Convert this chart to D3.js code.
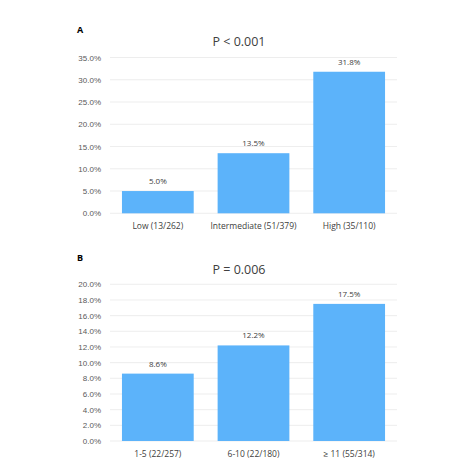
<!DOCTYPE html>
<html lang="en">
<head>
    <meta charset="UTF-8">
    <title>P value bar charts</title>
    <script src="https://d3js.org/d3.v7.min.js"></script>
    <style>
        body { margin: 0; background: #fff; }
        svg { display: block; font-family: "Open Sans", "Liberation Sans", sans-serif; }
        .tick text { fill: #595959; font-size: 8px; }
        .cat { fill: #404040; font-size: 8.5px; }
        .val { fill: #404040; font-size: 8px; }
        .title { fill: #404040; font-size: 12.5px; }
        .panel { fill: #000; font-size: 9px; font-weight: bold; }
    </style>
</head>
<body>
<div id="chart"></div>
<script>
    // panel A
    const catsA = ["Low (13/262)", "Intermediate (51/379)", "High (35/110)"];
    const valsA = [5.0, 13.5, 31.8];
    const ticksA = [0, 5, 10, 15, 20, 25, 30, 35];

    // panel B
    const catsB = ["1-5 (22/257)", "6-10 (22/180)", "\u2265 11 (55/314)"];
    const valsB = [8.6, 12.2, 17.5];
    const ticksB = [0, 2, 4, 6, 8, 10, 12, 14, 16, 18, 20];

    const width = 474, height = 474;
    const barColor = "#5cb3fa";

    const svg = d3.select("#chart").append("svg")
        .attr("width", width)
        .attr("height", height);

    function drawPanel(opts) {
        const x = d3.scaleBand()
            .domain(opts.cats)
            .range([110, 397])
            .paddingInner(0.25)
            .paddingOuter(0.125);

        const y = d3.scaleLinear()
            .domain([0, opts.ticks[opts.ticks.length - 1]])
            .range([opts.bottom, opts.top]);

        const g = svg.append("g");

        // gridlines
        g.append("g")
            .selectAll("line")
            .data(opts.ticks)
            .join("line")
            .attr("x1", 110).attr("x2", 397)
            .attr("y1", d => y(d)).attr("y2", d => y(d))
            .attr("stroke", "#e8e8e8")
            .attr("stroke-width", 0.8);

        // y axis
        const yAxis = g.append("g")
            .attr("transform", "translate(110,0)")
            .call(d3.axisLeft(y).tickValues(opts.ticks).tickFormat(d => d.toFixed(1) + "%").tickSize(0).tickPadding(9));
        yAxis.select(".domain").remove();

        // bars
        g.append("g")
            .selectAll("rect")
            .data(opts.vals)
            .join("rect")
            .attr("x", (d, i) => x(opts.cats[i]))
            .attr("width", x.bandwidth())
            .attr("y", d => y(d))
            .attr("height", d => y(0) - y(d))
            .attr("fill", barColor);

        // value labels
        g.append("g")
            .selectAll("text")
            .data(opts.vals)
            .join("text")
            .attr("class", "val")
            .attr("text-anchor", "middle")
            .attr("x", (d, i) => x(opts.cats[i]) + x.bandwidth() / 2)
            .attr("y", d => y(d) - 7)
            .text(d => d.toFixed(1) + "%");

        // category labels
        g.append("g")
            .selectAll("text")
            .data(opts.cats)
            .join("text")
            .attr("class", "cat")
            .attr("text-anchor", "middle")
            .attr("x", d => x(d) + x.bandwidth() / 2)
            .attr("y", opts.bottom + 16)
            .text(d => d);

        g.append("text")
            .attr("class", "title")
            .attr("text-anchor", "middle")
            .attr("x", 239)
            .attr("y", opts.titleY)
            .text(opts.title);

        g.append("text")
            .attr("class", "panel")
            .attr("x", 77)
            .attr("y", opts.panelY)
            .text(opts.label);
    }

    drawPanel({ cats: catsA, vals: valsA, ticks: ticksA, top: 57.5, bottom: 213.3,
        title: "P < 0.001", titleY: 46, label: "A", panelY: 33 });
    drawPanel({ cats: catsB, vals: valsB, ticks: ticksB, top: 284.3, bottom: 441,
        title: "P = 0.006", titleY: 274, label: "B", panelY: 261 });
</script>
</body>
</html>
